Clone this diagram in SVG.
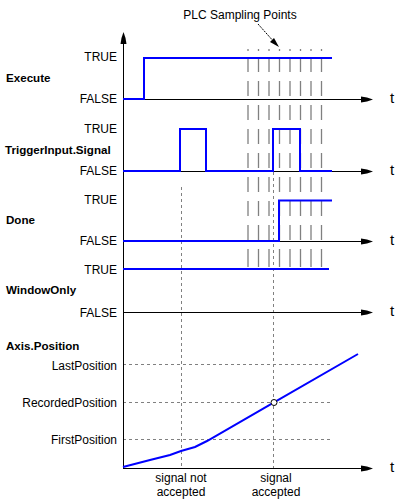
<svg xmlns="http://www.w3.org/2000/svg" width="403" height="501" viewBox="0 0 403 501">
<style>
text{font-family:"Liberation Sans",Arial,sans-serif;font-size:12px;fill:#000}
.lab{text-anchor:end}
.b{font-weight:bold;font-size:11.6px}
.t{font-size:15px}
.mid{text-anchor:middle}
.ax{stroke:#000;stroke-width:1;fill:none}
.sig{stroke:#0000ff;stroke-width:2;fill:none}
.smp{stroke:#808080;stroke-width:1.3;fill:none;stroke-dasharray:2 6 15 9 15 9 15 9 15 9 15 9 15 9 15 9 15 9 18 100}
.dot{stroke:#808080;stroke-width:1;fill:none;stroke-dasharray:3 3}
</style>
<defs>
<polygon id="ah" points="0,-3 6,-2 12,0 6,2 0,3" fill="#000"/>
</defs>
<rect width="403" height="501" fill="#fff"/>

<g id="sampling">
<text class="mid" x="240" y="19">PLC Sampling Points</text>
<line x1="258" y1="24" x2="275" y2="43" stroke="#000" stroke-width="1" stroke-dasharray="2 1"/>
<polygon points="279,47 270,42 274,38" fill="#000"/>
<line class="smp" x1="248" y1="49" x2="248" y2="268"/>
<line class="smp" x1="258.5" y1="49" x2="258.5" y2="268"/>
<line class="smp" x1="269" y1="49" x2="269" y2="268"/>
<line class="smp" x1="279.5" y1="49" x2="279.5" y2="268"/>
<line class="smp" x1="290" y1="49" x2="290" y2="268"/>
<line class="smp" x1="300.5" y1="49" x2="300.5" y2="268"/>
<line class="smp" x1="311" y1="49" x2="311" y2="268"/>
<line class="smp" x1="321.5" y1="49" x2="321.5" y2="268"/>
</g>

<g id="guides">
<line class="dot" x1="181.5" y1="187" x2="181.5" y2="468"/>
<line class="dot" x1="273.5" y1="172" x2="273.5" y2="468"/>
<line class="dot" x1="123" y1="364.5" x2="333" y2="364.5"/>
<line class="dot" x1="123" y1="402.5" x2="333" y2="402.5"/>
<line class="dot" x1="123" y1="439.5" x2="333" y2="439.5"/>
</g>

<g id="connectors">
<line class="ax" x1="123.5" y1="40" x2="123.5" y2="468"/>
<use href="#ah" transform="translate(123.5,44) rotate(-90)"/>
<line class="ax" x1="123" y1="99.5" x2="366" y2="99.5"/>
<use href="#ah" transform="translate(361,99.5)"/>
<line class="ax" x1="123" y1="171.5" x2="366" y2="171.5"/>
<use href="#ah" transform="translate(361,171.5)"/>
<line class="ax" x1="123" y1="241.5" x2="366" y2="241.5"/>
<use href="#ah" transform="translate(361,241.5)"/>
<line class="ax" x1="123" y1="312.5" x2="366" y2="312.5"/>
<use href="#ah" transform="translate(361,312.5)"/>
<line class="ax" x1="123" y1="468.5" x2="366" y2="468.5"/>
<use href="#ah" transform="translate(361,468.5)"/>
</g>

<g id="execute">
<text class="b" x="6" y="82">Execute</text>
<text class="lab" x="117" y="61">TRUE</text>
<text class="lab" x="117" y="103">FALSE</text>
<polyline class="sig" points="123,99 144,99 144,58 332,58"/>
<text class="t" x="390" y="103">t</text>
</g>

<g id="trigger">
<text class="b" x="5" y="153.5">TriggerInput.Signal</text>
<text class="lab" x="117" y="132.5">TRUE</text>
<text class="lab" x="117" y="175">FALSE</text>
<polyline class="sig" points="123,171 180,171 180,129 206,129 206,171 273,171 273,129 300,129 300,171 332,171"/>
<text class="t" x="390" y="175">t</text>
</g>

<g id="done">
<text class="b" x="6" y="223.5">Done</text>
<text class="lab" x="117" y="203.5">TRUE</text>
<text class="lab" x="117" y="245">FALSE</text>
<polyline class="sig" points="123,241 279,241 279,200.5 332,200.5"/>
<text class="t" x="390" y="245">t</text>
</g>

<g id="windowonly">
<text class="b" x="6" y="294">WindowOnly</text>
<text class="lab" x="117" y="274">TRUE</text>
<text class="lab" x="117" y="316.5">FALSE</text>
<line class="sig" x1="123" y1="269" x2="329" y2="269"/>
<text class="t" x="390" y="316">t</text>
</g>

<g id="axisposition">
<text class="b" x="6" y="350">Axis.Position</text>
<text class="lab" x="117" y="370">LastPosition</text>
<text class="lab" x="117" y="406.5">RecordedPosition</text>
<text class="lab" x="117" y="444">FirstPosition</text>
<polyline class="sig" points="123,467 150,460 170,455 181,451 195,447 207,441 274,402.4 358,354"/>
<circle cx="274" cy="402.5" r="3" fill="#fff" stroke="#000" stroke-width="1"/>
<text class="t" x="390" y="472">t</text>
<text class="mid" x="181" y="482">signal not</text>
<text class="mid" x="181" y="495.5">accepted</text>
<text class="mid" x="276" y="482">signal</text>
<text class="mid" x="276" y="495.5">accepted</text>
</g>
</svg>
